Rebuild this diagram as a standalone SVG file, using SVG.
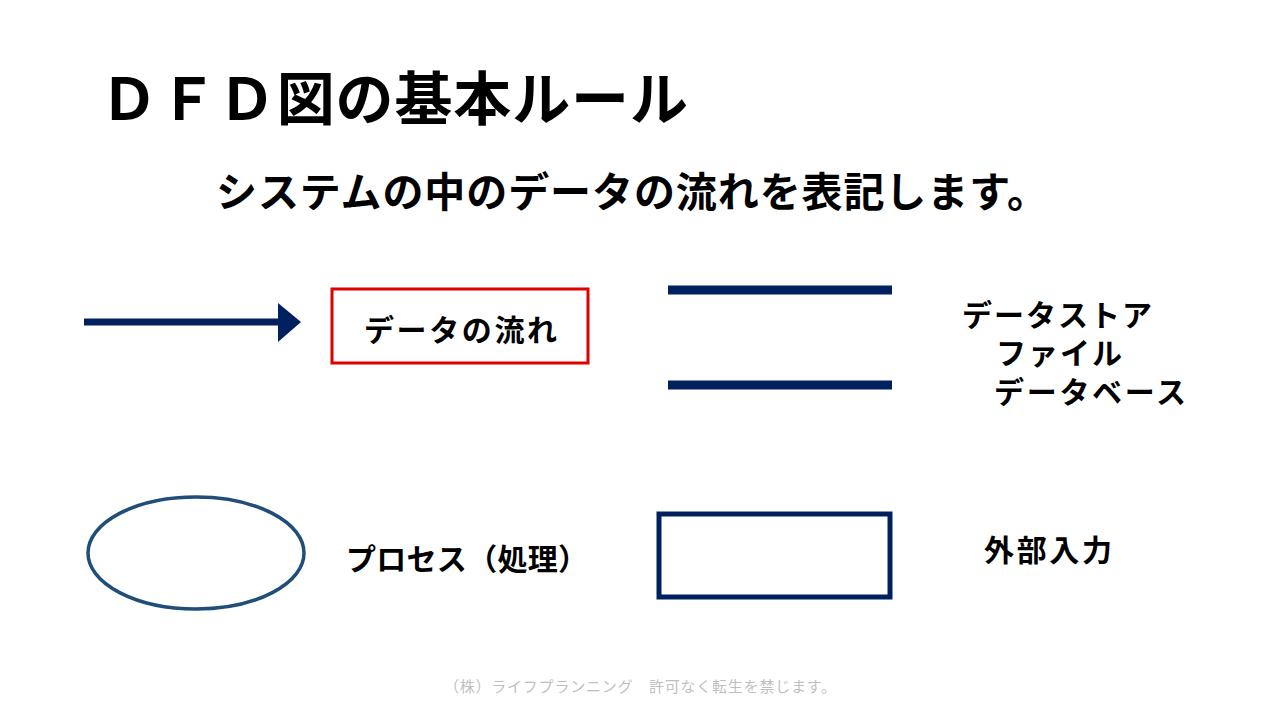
<svg xmlns="http://www.w3.org/2000/svg" width="1280" height="720" viewBox="0 0 1280 720">
<style>
text { font-family: "Noto Sans CJK JP", "Noto Sans", sans-serif; fill: #000; }
.title { font-size: 58px; font-weight: bold; }
.sub { font-size: 41px; font-weight: bold; }
.lbl { font-size: 30px; font-weight: bold; }
.foot { font-size: 15px; fill: #bfbfbf; }
.navy { fill: none; stroke: #002060; }
</style>
<rect width="1280" height="720" fill="#fff"/>
<text class="title" x="100" y="120" textLength="588" lengthAdjust="spacing">ＤＦＤ図の基本ルール</text>
<text class="sub" x="216" y="207" textLength="832" lengthAdjust="spacing">システムの中のデータの流れを表記します。</text>
<g id="connectors">
<line x1="84" y1="322" x2="280" y2="322" stroke="#002060" stroke-width="7"/>
<polygon points="278,303 301,322 278,342" fill="#002060"/>
</g>
<g id="flow-label">
<rect x="332" y="289" width="256" height="74" fill="none" stroke="#e00000" stroke-width="3"/>
<text class="lbl" x="364" y="341" textLength="193" lengthAdjust="spacing">データの流れ</text>
</g>
<g id="datastore">
<line x1="668" y1="290" x2="892" y2="290" stroke="#002060" stroke-width="9"/>
<line x1="668" y1="385" x2="892" y2="385" stroke="#002060" stroke-width="9"/>
<text class="lbl" x="962" y="326" textLength="190" lengthAdjust="spacing">データストア</text>
<text class="lbl" x="996" y="364" textLength="126" lengthAdjust="spacing">ファイル</text>
<text class="lbl" x="994" y="403" textLength="192" lengthAdjust="spacing">データベース</text>
</g>
<g id="process">
<ellipse cx="196" cy="553" rx="108" ry="56" fill="none" stroke="#1f4e79" stroke-width="3.5"/>
<text class="lbl" x="346" y="570" textLength="242" lengthAdjust="spacing">プロセス（処理）</text>
</g>
<g id="external">
<rect x="659" y="514" width="231" height="83" class="navy" stroke-width="5"/>
<text class="lbl" x="984" y="561" textLength="128" lengthAdjust="spacing">外部入力</text>
</g>
<text class="foot" x="640" y="692" text-anchor="middle" textLength="392" lengthAdjust="spacing">（株）ライフプランニング　許可なく転生を禁じます。</text>
</svg>
